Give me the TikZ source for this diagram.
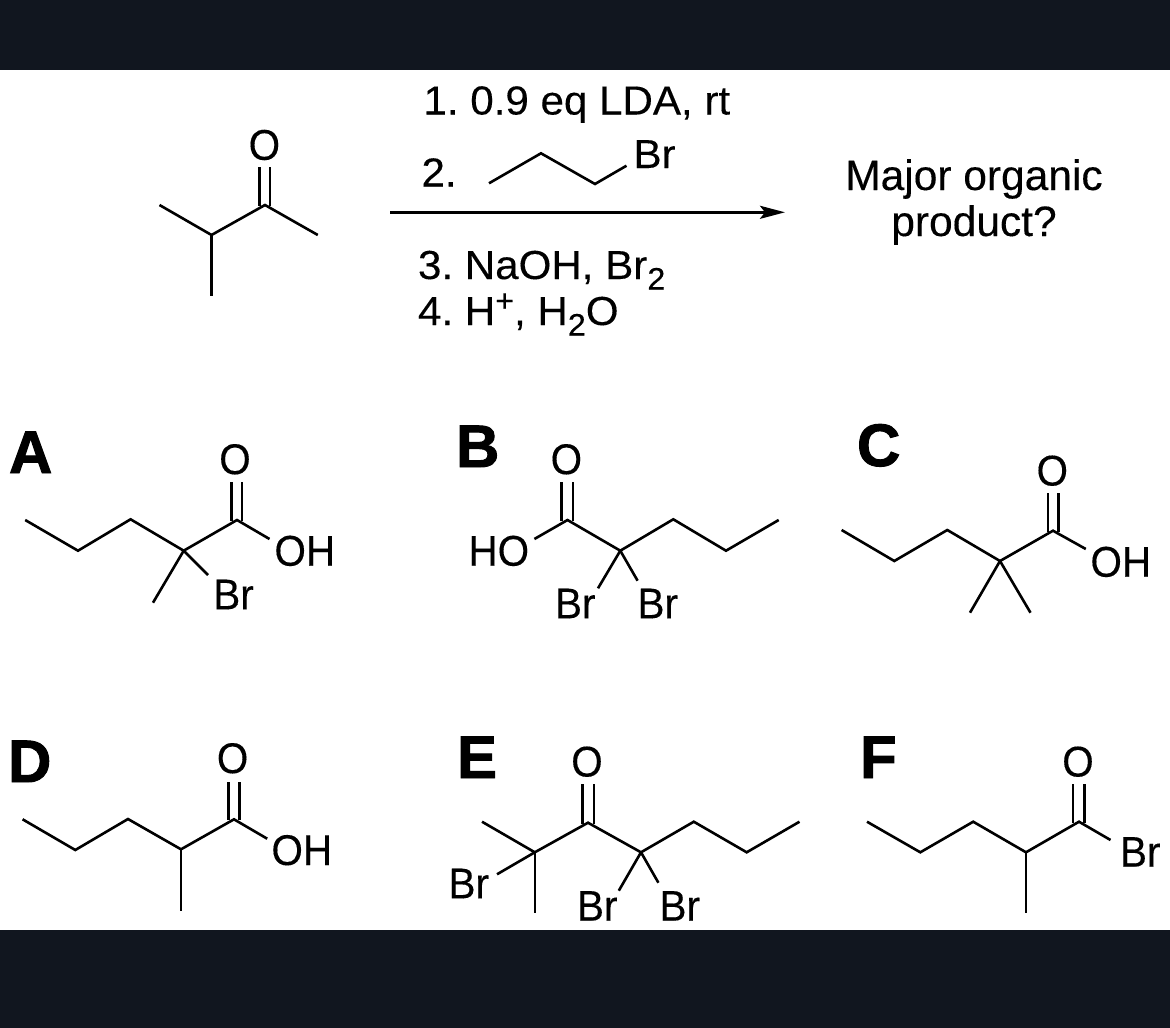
\documentclass[tikz,border=0pt]{standalone}
\usepackage{fontspec}
\usetikzlibrary{arrows.meta}
\setmainfont{Liberation Sans}[FakeBold=0.25]
\newfontfamily\letterfont{Liberation Sans Bold}[FakeBold=1.6]
\newfontfamily\atomfont{Liberation Sans}[FakeStretch=0.94,FakeBold=0.25]
\newfontfamily\reagentfont{Liberation Sans}[FakeStretch=1.04,FakeBold=0.25]
\newcommand\subs[1]{\raisebox{-0.26em}{\fontsize{31}{31}\selectfont #1}}
\newcommand\sups[1]{\raisebox{0.34em}{\fontsize{31}{31}\selectfont #1}}
\definecolor{barcol}{HTML}{11161F}
\tikzset{
  bond/.style={line width=2.6pt,line join=miter,line cap=butt,black},
  atom/.style={inner sep=0pt,outer sep=0pt,font=\atomfont\fontsize{43}{43}\selectfont},
  atombase/.style={atom,anchor=base west},
  reagent/.style={inner sep=0pt,outer sep=0pt,anchor=base west,font=\reagentfont\fontsize{40.5}{40.5}\selectfont},
  question/.style={inner sep=0pt,outer sep=0pt,anchor=base,font=\fontsize{42.5}{42.5}\selectfont},
  letterlab/.style={inner sep=0pt,outer sep=0pt,anchor=base west,font=\letterfont\fontsize{60}{60}\selectfont},
}
\begin{document}
\frenchspacing
\begin{tikzpicture}[x=1pt,y=-1pt]
\useasboundingbox (0,0) rectangle (1170,1028);
\fill[white] (0,0) rectangle (1170,1028);
\fill[barcol] (0,0) rectangle (1170,70);
\fill[barcol] (0,930) rectangle (1170,1028);

% starting ketone
\draw[bond] (159.5,205) -- (211.5,235) -- (265,205) -- (317.8,235);
\draw[bond] (211.5,235) -- (211.5,296);
\draw[bond] (259.5,206) -- (259.5,167.3) (270,206) -- (270,167.3);
\node[atom] (o0) at (264.4,145) {O};

% reagents
\node[reagent] (r1) at (423.5,114.5) {1. 0.9 eq LDA, rt};
\node[reagent] (r2) at (421.5,186.5) {2.};
\draw[bond] (489,183.3) -- (541,153.3) -- (595,184) -- (626.5,165.7);
\node[reagent] (r2br) at (633.5,168) {Br};
\node[reagent] (r3) at (418,279) {3. NaOH, Br\subs{2}};
\node[reagent] (r4) at (418,325) {4. H\sups{+}, H\subs{2}O};
\coordinate (arrowstart) at (390,212.3);
\coordinate (arrowend) at (785,212.3);
\draw[line width=2.6pt,-{Stealth[length=25pt,width=13pt,inset=5pt]}] (arrowstart) -- (arrowend);
\node[question] (q1) at (974,190) {Major organic};
\node[question] (q2) at (974,236) {product?};

% A
\node[letterlab] (la) at (9,473) {A};
\draw[bond] (25.2,520) -- (78,550.7) -- (130.6,519.3) -- (183.7,550.7) -- (237,520) -- (269.5,539);
\draw[bond] (183.7,550.7) -- (208,575);
\draw[bond] (183.7,550.7) -- (153,602.7);
\draw[bond] (231.5,521) -- (231.5,482.3) (242,521) -- (242,482.3);
\node[atom] (oa) at (235,459.3) {O};
\node[atombase] (oha) at (274.5,565.7) {OH};
\node[atombase] (bra) at (213.3,609.3) {Br};

% B
\node[letterlab] (lb) at (456,467) {B};
\node[atombase] (hob) at (468.5,565.7) {HO};
\draw[bond] (534.4,539) -- (567.5,520) -- (620.3,550.7) -- (673.3,519.3) -- (726,550.7) -- (778.7,520);
\draw[bond] (620.3,550.7) -- (598,588.3);
\draw[bond] (620.3,550.7) -- (637.6,580.7);
\draw[bond] (561.5,521) -- (561.5,482.3) (572.8,521) -- (572.8,482.3);
\node[atom] (ob) at (566.4,459.3) {O};
\node[atombase] (brb1) at (555,618.3) {Br};
\node[atombase] (brb2) at (637.5,618.3) {Br};

% C
\node[letterlab] (lc) at (857,466) {C};
\draw[bond] (841.6,530) -- (894.3,561) -- (947.3,530) -- (1000,561) -- (1053,530.7) -- (1085.8,549);
\draw[bond] (1000,561) -- (970,612.7);
\draw[bond] (1000,561) -- (1030.5,612.7);
\draw[bond] (1047.8,531.7) -- (1047.8,492.7) (1058.7,531.7) -- (1058.7,492.7);
\node[atom] (oc) at (1052.3,470.7) {O};
\node[atombase] (ohc) at (1090.5,576.7) {OH};

% D
\node[letterlab] (ld) at (8,782) {D};
\draw[bond] (22.6,819.3) -- (75.3,850) -- (128,819) -- (181,849.3) -- (234,819.3) -- (267.2,838.7);
\draw[bond] (181,849.3) -- (181,910.7);
\draw[bond] (228.5,820) -- (228.5,781.7) (239.4,820) -- (239.4,781.7);
\node[atom] (od) at (232.6,758.3) {O};
\node[atombase] (ohd) at (271.5,865) {OH};

% E
\node[letterlab] (le) at (457,778) {E};
\draw[bond] (482,821.7) -- (534.8,852.3) -- (588,822.7) -- (641,852.3) -- (693.8,821.7) -- (746.7,852.3) -- (799.5,821.7);
\draw[bond] (534.8,852.3) -- (534.8,912.7);
\draw[bond] (534.8,852.3) -- (497,874.3);
\draw[bond] (641,852.3) -- (618.8,890.7);
\draw[bond] (641,852.3) -- (658.4,882.7);
\draw[bond] (582.4,823.5) -- (582.4,784.3) (593.8,823.5) -- (593.8,784.3);
\node[atom] (oe) at (587,761.7) {O};
\node[atombase] (bre1) at (448.5,898.3) {Br};
\node[atombase] (bre2) at (577,920.7) {Br};
\node[atombase] (bre3) at (659.5,920.7) {Br};

% F
\node[letterlab] (lf) at (860,778) {F};
\draw[bond] (867,821.7) -- (920.3,852.3) -- (973.2,821.7) -- (1026,852.3) -- (1079,821.7) -- (1110.5,840);
\draw[bond] (1026,852.3) -- (1026,912.7);
\draw[bond] (1072.8,822.7) -- (1072.8,784.3) (1084.6,822.7) -- (1084.6,784.3);
\node[atom] (of) at (1078,761.7) {O};
\node[atombase] (brf) at (1120,866.7) {Br};
\end{tikzpicture}
\end{document}
